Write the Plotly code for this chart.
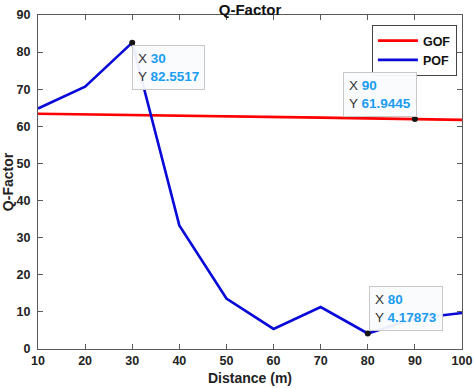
import plotly.graph_objects as go

distance = [10, 20, 30, 40, 50, 60, 70, 80, 90, 100]
gof = [63.4, 63.25, 63.1, 62.9, 62.75, 62.55, 62.35, 62.15, 61.9445, 61.75]
pof = [64.8, 70.7, 82.5517, 33.3, 13.6, 5.4, 11.3, 4.17873, 8.2, 9.7]

tip_x = [30, 90, 80]
tip_y = [82.5517, 61.9445, 4.17873]
tip_label_y = ["82.5517", "61.9445", "4.17873"]

FONT = "Liberation Sans, Arial, Helvetica, sans-serif"
AXIS_COLOR = "#5a5a5a"

fig = go.Figure()
fig.add_trace(go.Scatter(x=distance, y=gof, mode="lines", name="<b>GOF</b>",
                         line=dict(color="#ff0000", width=2.6)))
fig.add_trace(go.Scatter(x=distance, y=pof, mode="lines", name="<b>POF</b>",
                         line=dict(color="#0a0ad8", width=2.6)))
fig.add_trace(go.Scatter(x=tip_x, y=tip_y, mode="markers", showlegend=False,
                         marker=dict(color="#151515", size=6)))

anchors = [("left", "top", 0, -2), ("right", "bottom", 2, 2), ("left", "bottom", 1, 2)]
for xv, yv, lab, (xa, ya, xs, ys) in zip(tip_x, tip_y, tip_label_y, anchors):
    fig.add_annotation(
        x=xv, y=yv, xref="x", yref="y", showarrow=False,
        xanchor=xa, yanchor=ya, xshift=xs, yshift=ys, align="left",
        text=(f"<span style='color:#333333'>X</span> <b><span style='color:#1a9cf0'>{xv}</span></b><br>"
              f"<span style='color:#333333'>Y</span> <b><span style='color:#1a9cf0'>{lab}</span></b>"),
        font=dict(family=FONT, size=13.5, color="#333333"),
        bgcolor="rgba(250,251,253,0.95)", bordercolor="#c8c8c8", borderwidth=1, borderpad=5,
    )

fig.update_layout(
    width=474, height=388,
    margin=dict(l=38, r=12, t=15, b=39, autoexpand=False),
    paper_bgcolor="white", plot_bgcolor="white",
    font=dict(family=FONT, size=12, color="#222222"),
    title=dict(text="<b>Q-Factor</b>", x=0.5275, xanchor="center",
               yref="container", y=0.975, yanchor="middle", automargin=False,
               font=dict(family=FONT, size=15, color="#111111")),
    legend=dict(x=0.988, y=0.97, xanchor="right", yanchor="top",
                bgcolor="white", bordercolor="#444444", borderwidth=1,
                font=dict(family=FONT, size=12.5, color="#111111"),
                itemwidth=40, tracegroupgap=0),
    showlegend=True,
)
fig.update_xaxes(range=[10, 100], tickmode="array", tickvals=distance,
                 ticktext=[f"<b>{d}</b>" for d in distance],
                 ticks="inside", ticklen=5, tickcolor=AXIS_COLOR,
                 showline=True, linecolor=AXIS_COLOR, linewidth=1, mirror="ticks",
                 showgrid=False, zeroline=False, automargin=False,
                 tickfont=dict(family=FONT, size=12.5, color="#222222"),
                 title=dict(text="<b>Distance (m)</b>", standoff=6,
                            font=dict(family=FONT, size=14, color="#222222")))
yt = list(range(0, 91, 10))
fig.update_yaxes(range=[0, 90], tickmode="array", tickvals=yt,
                 ticktext=[f"<b>{v}</b>" for v in yt],
                 ticks="inside", ticklen=5, tickcolor=AXIS_COLOR,
                 showline=True, linecolor=AXIS_COLOR, linewidth=1, mirror="ticks",
                 showgrid=False, zeroline=False, automargin=False,
                 ticklabelstandoff=4,
                 tickfont=dict(family=FONT, size=12.5, color="#222222"),
                 title=dict(text="<b>Q-Factor</b>", standoff=4,
                            font=dict(family=FONT, size=14, color="#222222")))

fig.write_html("out.html", config={"displayModeBar": False},
               post_script="document.body.style.margin='0';")
